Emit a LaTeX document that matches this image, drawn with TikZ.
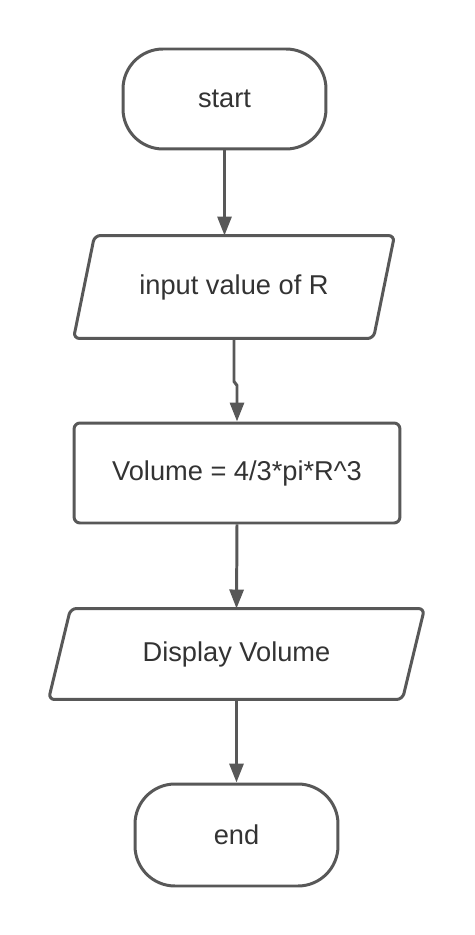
\documentclass[tikz,border=0pt]{standalone}
\usepackage{fontspec}
\setmainfont{Liberation Sans}
\usetikzlibrary{arrows.meta,positioning}
\definecolor{linegray}{RGB}{88,88,88}
\definecolor{textgray}{RGB}{51,51,51}

\begin{document}
\begin{tikzpicture}[x=0.02cm,y=-0.02cm,
  box/.style={draw=linegray,line width=1.7pt,fill=white,text=textgray,
    font=\fontsize{15.5}{18}\selectfont,inner sep=0pt},
  terminal/.style={box,rectangle,rounded corners=0.8cm,minimum width=4.06cm,minimum height=2cm},
  process/.style={box,rectangle,rounded corners=0.12cm,minimum width=6.52cm,minimum height=2cm},
  io/.style={box,draw=none,fill=none,rectangle},
  ioframe/.style={draw=linegray,line width=1.7pt,rounded corners=0.12cm},
  flow/.style={draw=linegray,line width=1.7pt,-{Triangle[length=0.38cm,width=0.28cm]}}]
  % page
  \fill[white] (0,0) rectangle (474,935);
  \useasboundingbox (0,0) rectangle (474,935);
  % boxes
  \node[terminal] (start) at (224.5,99) {start};
  \node[io,minimum width=6.36cm,minimum height=2cm] (input) at (234,287) {input value of R};
  \node[process] (calc) at (237,473) {Volume = 4/3*pi*R\^{}3};
  \node[io,minimum width=7.46cm,minimum height=1.76cm] (display) at (236.5,654) {Display Volume};
  \node[terminal,minimum height=2.04cm] (stop) at (236.5,835) {end};
  % parallelograms
  \draw[ioframe] ([xshift=0.42cm]input.north west) -- (input.north east)
    -- ([xshift=-0.42cm]input.south east) -- (input.south west) -- cycle;
  \draw[ioframe] ([xshift=0.44cm]display.north west) -- (display.north east)
    -- ([xshift=-0.44cm]display.south east) -- (display.south west) -- cycle;
  % arrows
  \draw[flow] (start.south) -- (start.south |- input.north);
  \draw[flow] (input.south) -- ++(0,43) -- ++(3,4) -- (calc.north);
  \draw[flow] (calc.south) -- (display.north);
  \draw[flow] (display.south) -- (stop.north);
\end{tikzpicture}
\end{document}
